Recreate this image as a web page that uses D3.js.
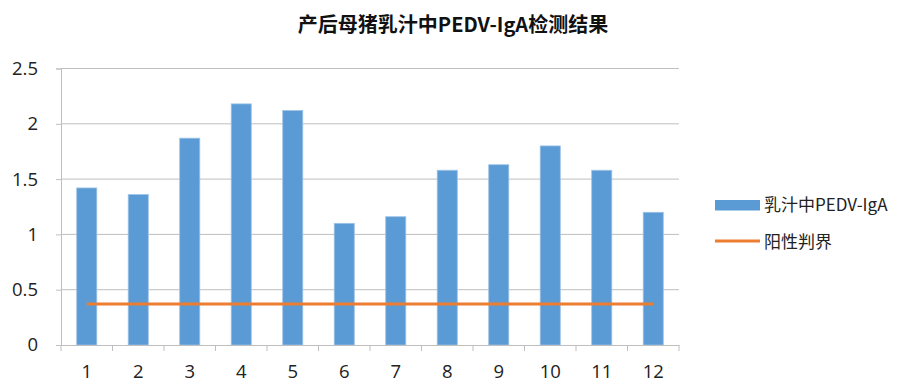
<!DOCTYPE html>
<html><head><meta charset="utf-8">
<script src="https://cdn.jsdelivr.net/npm/d3@7"></script>
<style>body{margin:0;background:#fff}svg{display:block;font-family:"Open Sans","Noto Sans CJK SC",sans-serif}</style>
</head><body><svg id="c" width="900" height="392"></svg>
<script>
const categories = ["1","2","3","4","5","6","7","8","9","10","11","12"];
const igaValues = [1.42, 1.36, 1.87, 2.18, 2.12, 1.10, 1.16, 1.58, 1.63, 1.80, 1.58, 1.20];
const thresholdValues = [0.37,0.37,0.37,0.37,0.37,0.37,0.37,0.37,0.37,0.37,0.37,0.37];
const yTicks = [0, 0.5, 1, 1.5, 2, 2.5];
const seriesNames = ["乳汁中PEDV-IgA", "阳性判界"];
const title = "产后母猪乳汁中PEDV-IgA检测结果";

const svg = d3.select("#c");
const L = 61, R = 679, T = 68.5, B = 345;
const x = d3.scaleBand().domain(categories).range([L, R]).padding(0);
const y = d3.scaleLinear().domain([0, 2.5]).range([B, T]);
const grid = "#bfbfbf";

// gridlines
svg.append("g").selectAll("line").data(yTicks.filter(d => d > 0)).join("line")
  .attr("x1", L).attr("x2", R).attr("y1", d => y(d)).attr("y2", d => y(d))
  .attr("stroke", grid).attr("stroke-width", 1);

// y axis
const ya = svg.append("g").attr("transform", `translate(${L},0)`)
  .call(d3.axisLeft(y).tickValues(yTicks).tickSize(5).tickPadding(18).tickFormat(d => String(d)));
ya.select(".domain").attr("stroke", grid);
ya.selectAll(".tick line").attr("stroke", grid);
ya.selectAll("text").attr("font-size", 18.5).attr("fill", "#222").attr("font-family", "Open Sans, sans-serif");

// bars
const bw = x.bandwidth() * 0.39;
svg.append("g").selectAll("rect").data(igaValues).join("rect")
  .attr("x", (d, i) => x(categories[i]) + (x.bandwidth() - bw) / 2)
  .attr("width", bw)
  .attr("y", d => y(d)).attr("height", d => B - y(d))
  .attr("fill", "#5b9bd5").attr("stroke", "#9dc3e6").attr("stroke-width", 0.8);

// x axis
const xa = svg.append("g").attr("transform", `translate(0,${B})`)
  .call(d3.axisBottom(x).tickSize(0).tickPadding(20));
xa.select(".domain").attr("stroke", grid);
xa.selectAll("text").attr("font-size", 18.5).attr("fill", "#222").attr("font-family", "Open Sans, sans-serif");
// band boundary ticks
svg.append("g").selectAll("line").data(d3.range(categories.length + 1)).join("line")
  .attr("x1", i => L + i * x.bandwidth()).attr("x2", i => L + i * x.bandwidth())
  .attr("y1", B).attr("y2", B + 6).attr("stroke", grid);

// threshold line
const line = d3.line().x((d, i) => x(categories[i]) + x.bandwidth() / 2).y(d => y(d));
svg.append("path").datum(thresholdValues).attr("d", line)
  .attr("fill", "none").attr("stroke", "#ed7d31").attr("stroke-width", 3);

// title
svg.append("text").attr("x", 453).attr("y", 32).attr("text-anchor", "middle")
  .attr("font-size", 20).attr("font-weight", "bold").attr("fill", "#111")
  .attr("font-family", "Noto Sans CJK SC, sans-serif").text(title);

// legend
const lg = svg.append("g");
lg.append("rect").attr("x", 715).attr("y", 200).attr("width", 45).attr("height", 10.5).attr("fill", "#5b9bd5");
lg.append("text").attr("x", 764).attr("y", 211).attr("font-size", 17).attr("fill", "#222")
  .attr("font-family", "Noto Sans CJK SC, sans-serif").text(seriesNames[0]);
lg.append("line").attr("x1", 715).attr("x2", 760).attr("y1", 241).attr("y2", 241)
  .attr("stroke", "#ed7d31").attr("stroke-width", 3);
lg.append("text").attr("x", 764).attr("y", 248).attr("font-size", 17).attr("fill", "#222")
  .attr("font-family", "Noto Sans CJK SC, sans-serif").text(seriesNames[1]);
</script></body></html>
